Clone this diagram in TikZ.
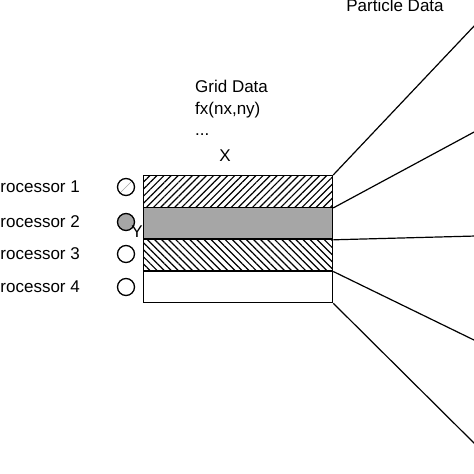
\documentclass[tikz,border=0pt]{standalone}
\usepackage{fontspec}
\setmainfont{Liberation Sans}
\usetikzlibrary{patterns.meta}

\begin{document}
\begin{tikzpicture}[x=1pt,y=-1pt,
    txt/.style={font=\fontsize{17}{20}\selectfont, inner sep=0pt},
    strip/.style={draw, line width=1.3pt, minimum width=189pt, minimum height=31.75pt, inner sep=0pt, anchor=north west},
    proc/.style={circle, draw, line width=1.3pt, minimum size=17pt, inner sep=0pt},
    link/.style={line width=1.2pt}]
    \clip (0,0) rectangle (474,474);
    \useasboundingbox (0,0) rectangle (474,474);
    % the four strips of the grid
    \node[strip, pattern={Lines[angle=45,distance=5pt,line width=1.2pt]}] (s1) at (143,175) {};
    \node[strip, fill=black!35] (s2) at (143,206.75) {};
    \node[strip, pattern={Lines[angle=-45,distance=5pt,line width=1.2pt]}] (s3) at (143,238.5) {};
    \node[strip, fill=white] (s4) at (143,270.25) {};
    % processors
    \foreach \i/\y in {1/187,2/222,3/254,4/287} {
        \node[txt, anchor=east] (p\i) at (80,\y) {Processor \i};
    }
    \node[proc, path picture={\draw[black!35, line width=0.6pt] (path picture bounding box.south west) -- (path picture bounding box.north east);}] (c1) at (126,187) {};
    \node[proc, fill=black!35] (c2) at (126,222) {};
    \node[proc] (c3) at (126,254) {};
    \node[proc] (c4) at (126,287) {};
    \node[txt] (y) at (137,232) {Y};
    % grid data
    \node[txt, anchor=base west] (grid) at (195,92) {Grid Data};
    \node[txt, anchor=base west] (fx) at (195,114) {fx(nx,ny)};
    \node[txt, anchor=base west] (dots) at (195,135) {...};
    \node[txt, anchor=base] (x) at (225,161) {X};
    % particle data
    \node[txt, anchor=base] (part) at (395,11) {Particle Data};
    \coordinate (e1) at (476,24);
    \coordinate (e2) at (476,131);
    \coordinate (e3) at (476,236);
    \coordinate (e4) at (476,341);
    \coordinate (e5) at (476,445);
    \draw[link] (s1.north east) -- (e1);
    \draw[link] (s1.south east) -- (e2);
    \draw[link] (s2.south east) -- (e3);
    \draw[link] (s3.south east) -- (e4);
    \draw[link] (s4.south east) -- (e5);
\end{tikzpicture}
\end{document}
